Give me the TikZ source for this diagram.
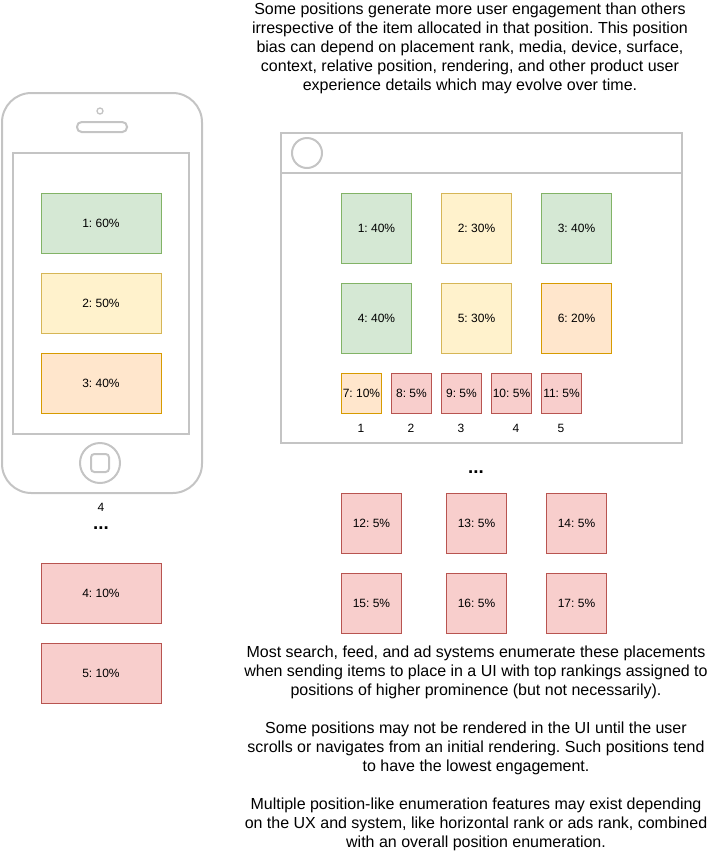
\documentclass[tikz,border=0pt]{standalone}
\usepackage{fontspec}
\setmainfont{Liberation Sans}
\usepackage{tikz}
\usetikzlibrary{positioning}
\frenchspacing

\definecolor{greenfill}{HTML}{D5E8D4}
\definecolor{greenline}{HTML}{82B366}
\definecolor{yellowfill}{HTML}{FFF2CC}
\definecolor{yellowline}{HTML}{D6B656}
\definecolor{orangefill}{HTML}{FFE6CC}
\definecolor{orangeline}{HTML}{D79B00}
\definecolor{redfill}{HTML}{F8CECC}
\definecolor{redline}{HTML}{B85450}
\definecolor{framegray}{HTML}{C4C4C4}

\tikzset{
  cell/.style={draw, line width=0.75pt, inner sep=0pt, font=\fontsize{9}{11}\selectfont},
  greencell/.style={cell, draw=greenline, fill=greenfill},
  yellowcell/.style={cell, draw=yellowline, fill=yellowfill},
  orangecell/.style={cell, draw=orangeline, fill=orangefill},
  redcell/.style={cell, draw=redline, fill=redfill},
  widecell/.style={minimum width=90pt, minimum height=45pt},
  bigcell/.style={minimum size=52.5pt},
  midcell/.style={minimum size=45pt},
  smallcell/.style={minimum size=30pt},
  frame/.style={draw=framegray, line width=1.5pt},
  rank/.style={inner sep=0pt, font=\fontsize{9}{11}\selectfont},
  dots/.style={inner sep=0pt, font=\fontsize{14}{16}\selectfont\bfseries},
  note/.style={align=center, inner sep=0pt, font=\fontsize{12}{14.25}\selectfont}
}

\begin{document}
\begin{tikzpicture}[x=0.75pt,y=-0.75pt]
		\useasboundingbox (0,0) rectangle (710,854);

		% phone
		\draw[frame, rounded corners=22pt] (2,93) rectangle (202,493);
		\draw[frame] (13,153) rectangle (189,434);
		\draw[frame, line width=1pt] (100,111) circle (3);
		\draw[frame, rounded corners=3.5pt] (77,122) rectangle (127,132);
		\draw[frame] (100,463) circle (20);
		\draw[frame, rounded corners=2.5pt] (91,454) rectangle (109,472);

		\node[greencell, widecell] (p1) at (101,223) {1: 60\%};
		\node[yellowcell, widecell] (p2) at (101,303) {2: 50\%};
		\node[orangecell, widecell] (p3) at (101,383) {3: 40\%};
		\node[rank] (prank) at (101,507) {4};
		\node[dots] (pdots) at (101,528) {...};
		\node[redcell, widecell] (p4) at (101,593) {4: 10\%};
		\node[redcell, widecell] (p5) at (101,673) {5: 10\%};

		% browser window
		\draw[frame] (281,133) rectangle (682,443);
		\draw[frame] (281,173) -- (682,173);
		\draw[frame] (307,153) circle (15);

		\node[greencell, bigcell] (w1) at (376.5,228) {1: 40\%};
		\node[yellowcell, bigcell] (w2) at (476.5,228) {2: 30\%};
		\node[greencell, bigcell] (w3) at (576.5,228) {3: 40\%};
		\node[greencell, bigcell] (w4) at (376.5,318) {4: 40\%};
		\node[yellowcell, bigcell] (w5) at (476.5,318) {5: 30\%};
		\node[orangecell, bigcell] (w6) at (576.5,318) {6: 20\%};

		\node[orangecell, smallcell] (w7) at (361.5,393) {7: 10\%};
		\node[redcell, smallcell] (w8) at (411.5,393) {8: 5\%};
		\node[redcell, smallcell] (w9) at (461.5,393) {9: 5\%};
		\node[redcell, smallcell] (w10) at (511.5,393) {10: 5\%};
		\node[redcell, smallcell] (w11) at (561.5,393) {11: 5\%};

		\node[rank] (r1) at (361,428) {1};
		\node[rank] (r2) at (411,428) {2};
		\node[rank] (r3) at (461,428) {3};
		\node[rank] (r4) at (516,428) {4};
		\node[rank] (r5) at (561,428) {5};

		\node[dots] (wdots) at (476,472) {...};

		\node[redcell, midcell] (w12) at (371.5,523) {12: 5\%};
		\node[redcell, midcell] (w13) at (476.5,523) {13: 5\%};
		\node[redcell, midcell] (w14) at (576.5,523) {14: 5\%};
		\node[redcell, midcell] (w15) at (371.5,603) {15: 5\%};
		\node[redcell, midcell] (w16) at (476.5,603) {16: 5\%};
		\node[redcell, midcell] (w17) at (576.5,603) {17: 5\%};

		% texts
		\node[note] (top) at (470,48) {Some positions generate more user engagement than others\\
			irrespective of the item allocated in that position. This position\\
			bias can depend on placement rank, media, device, surface,\\
			context, relative position, rendering, and other product user\\
			experience details which may evolve over time.};
		\node[note] (bottom) at (476,748) {Most search, feed, and ad systems enumerate these placements\\
			when sending items to place in a UI with top rankings assigned to\\
			positions of higher prominence (but not necessarily).\\[14.25pt]
			Some positions may not be rendered in the UI until the user\\
			scrolls or navigates from an initial rendering. Such positions tend\\
			to have the lowest engagement.\\[14.25pt]
			Multiple position-like enumeration features may exist depending\\
			on the UX and system, like horizontal rank or ads rank, combined\\
			with an overall position enumeration.};
	\end{tikzpicture}
\end{document}
